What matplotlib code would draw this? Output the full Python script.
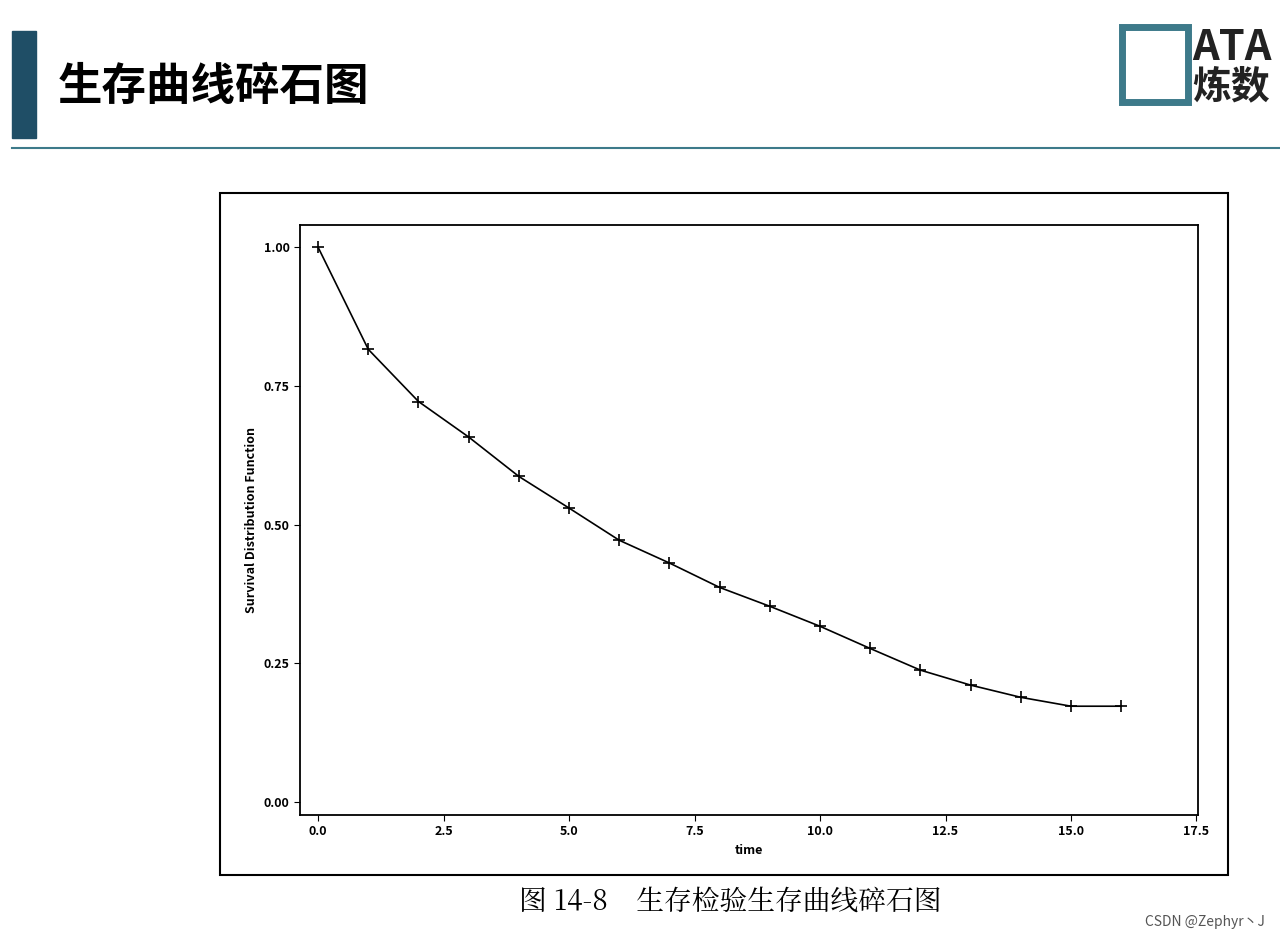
import matplotlib
matplotlib.use("Agg")
import matplotlib.pyplot as plt
from matplotlib.patches import Rectangle

plt.rcParams['font.family'] = ['Noto Sans CJK SC', 'DejaVu Sans']

time = [0, 1, 2, 3, 4, 5, 6, 7, 8, 9, 10, 11, 12, 13, 14, 15, 16]
survival = [1.00, 0.816, 0.722, 0.658, 0.587, 0.530, 0.472, 0.431, 0.387,
            0.353, 0.317, 0.277, 0.238, 0.211, 0.189, 0.173, 0.173]
xticks = [0.0, 2.5, 5.0, 7.5, 10.0, 12.5, 15.0, 17.5]
yticks = [0.00, 0.25, 0.50, 0.75, 1.00]

fig = plt.figure(figsize=(12.8, 9.4), dpi=100)
fig.patch.set_facecolor('white')

# slide header
fig.patches.append(Rectangle((12/1280, 1-138/940), 24/1280, 107/940,
                             transform=fig.transFigure, color='#1f4e66'))
fig.text(58/1280, 1-87/940, '生存曲线碎石图', fontsize=32, fontweight='bold',
         va='center', ha='left')
fig.add_artist(plt.Line2D([12/1280, 1], [1-148/940, 1-148/940],
                          transform=fig.transFigure, color='#3d7a8a', lw=1.5))
fig.patches.append(Rectangle((1122/1280, 1-102/940), 66/1280, 75/940,
                             transform=fig.transFigure, facecolor='none',
                             edgecolor='#3d7a8a', lw=5))
fig.text(1192/1280, 1-48/940, 'ATA', fontsize=30, fontweight='bold',
         color='#222222', va='center', ha='left')
fig.text(1192/1280, 1-87/940, '炼数', fontsize=28, fontweight='bold',
         color='#222222', va='center', ha='left')

# outer chart frame
fig.patches.append(Rectangle((220/1280, 1-875/940), 1008/1280, 682/940,
                             transform=fig.transFigure, facecolor='none',
                             edgecolor='black', lw=1.5))

ax = fig.add_axes([300/1280, 125/940, 898/1280, 590/940])
ax.plot(time, survival, color='black', lw=1.2, marker='+', markersize=9,
        markeredgewidth=1.2)
ax.set_xlim(-0.36, 17.53)
ax.set_ylim(-0.023, 1.04)
ax.set_xticks(xticks)
ax.set_xticklabels([f'{v:.1f}' for v in xticks], fontsize=9, fontweight='bold')
ax.set_yticks(yticks)
ax.set_yticklabels([f'{v:.2f}' for v in yticks], fontsize=9, fontweight='bold')
ax.tick_params(direction='out', length=4)
for s in ax.spines.values():
    s.set_linewidth(1.3)
ax.set_xlabel('time', fontsize=9, fontweight='bold')
ax.set_ylabel('Survival Distribution Function', fontsize=9, fontweight='bold')

fig.text(730/1280, 1-902/940, '图 14-8    生存检验生存曲线碎石图', fontsize=20,
         ha='center', va='center', family=['Noto Serif CJK SC', 'Noto Sans CJK SC'])
fig.text(1265/1280, 1-922/940, 'CSDN @Zephyr丶J', fontsize=10, color='#555555',
         ha='right', va='center')

fig.savefig('out.png', dpi=100)
